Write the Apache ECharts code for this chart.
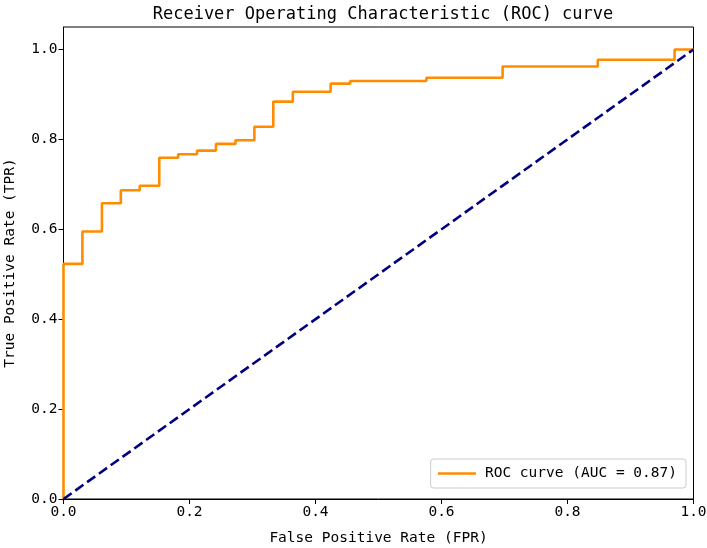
<!DOCTYPE html>
<html>
<head>
<meta charset="utf-8">
<script src="https://cdn.jsdelivr.net/npm/echarts@6/dist/echarts.min.js"></script>
<style>
  html, body { margin: 0; padding: 0; background: #fff; }
  #chart { width: 707px; height: 548px; }
</style>
</head>
<body>
<div id="chart"></div>
<script>
// ROC curve corners
const fpr = [0, 0, 0.030, 0.030, 0.061, 0.061, 0.091, 0.091, 0.121, 0.121, 0.152, 0.152,
  0.182, 0.182, 0.212, 0.212, 0.242, 0.242, 0.273, 0.273, 0.303, 0.303, 0.333, 0.333,
  0.364, 0.364, 0.424, 0.424, 0.455, 0.455, 0.576, 0.576, 0.697, 0.697, 0.848, 0.848,
  0.970, 0.970, 1.0];
const tpr = [0, 0.523, 0.523, 0.595, 0.595, 0.658, 0.658, 0.687, 0.687, 0.697, 0.697,
  0.759, 0.759, 0.767, 0.767, 0.775, 0.775, 0.790, 0.790, 0.798, 0.798, 0.828, 0.828,
  0.884, 0.884, 0.906, 0.906, 0.924, 0.924, 0.930, 0.930, 0.937, 0.937, 0.962, 0.962,
  0.977, 0.977, 1.0, 1.0];
// chance line
const chanceX = [0, 1];
const chanceY = [0, 1];
const tickVals = [0, 0.2, 0.4, 0.6, 0.8, 1.0];
const rocName = 'ROC curve (AUC = 0.87)';

const font = '"DejaVu Sans Mono", monospace';

var myChart = echarts.init(document.getElementById('chart'));
var option = {
  animation: false,
  backgroundColor: '#fff',
  title: {
    text: 'Receiver Operating Characteristic (ROC) curve',
    left: 378, top: 1, textAlign: 'center',
    textStyle: { fontFamily: font, fontSize: 17, fontWeight: 'normal', color: '#000' }
  },
  grid: {
    left: 63.5, right: 13.5, top: 27, bottom: 49,
    show: true, borderColor: '#000', borderWidth: 1,
    outerBoundsMode: 'none'
  },
  legend: {
    data: [rocName],
    right: 21, bottom: 60,
    padding: [7, 9, 7, 6],
    itemWidth: 38, itemHeight: 14, itemGap: 10,
    itemStyle: { opacity: 0, borderWidth: 0 },
    lineStyle: { color: '#ff8c00', width: 2.6 },
    backgroundColor: 'rgba(255,255,255,0.8)',
    borderColor: '#cccccc', borderWidth: 1, borderRadius: 3,
    textStyle: { fontFamily: font, fontSize: 14.5, color: '#000', padding: [0, 0, 0, 4] }
  },
  xAxis: {
    type: 'value', min: 0, max: 1, interval: 0.2,
    name: 'False Positive Rate (FPR)', nameLocation: 'middle', nameGap: 32,
    nameTextStyle: { fontFamily: font, fontSize: 14.5, color: '#000' },
    axisLine: { show: true, lineStyle: { color: '#000', width: 1 } },
    axisTick: { show: true, inside: false, length: 5, lineStyle: { color: '#000' } },
    axisLabel: {
      fontFamily: font, fontSize: 14.5, color: '#000', margin: 6,
      formatter: v => v.toFixed(1)
    },
    splitLine: { show: false }
  },
  yAxis: {
    type: 'value', min: 0, max: 1.05, interval: 0.2,
    name: 'True Positive Rate (TPR)', nameLocation: 'middle', nameGap: 46, nameRotate: 90,
    nameTextStyle: { fontFamily: font, fontSize: 14.5, color: '#000' },
    axisLine: { show: true, lineStyle: { color: '#000', width: 1 } },
    axisTick: { show: true, inside: false, length: 5, customValues: tickVals, lineStyle: { color: '#000' } },
    axisLabel: {
      fontFamily: font, fontSize: 14.5, color: '#000', margin: 6,
      customValues: tickVals,
      formatter: v => v.toFixed(1)
    },
    splitLine: { show: false }
  },
  series: [
    {
      name: rocName,
      type: 'line',
      symbol: 'none',
      data: fpr.map((x, i) => [x, tpr[i]]),
      lineStyle: { color: '#ff8c00', width: 2.6 },
      itemStyle: { color: '#ff8c00' },
      z: 3
    },
    {
      name: 'chance',
      type: 'line',
      symbol: 'none',
      data: chanceX.map((x, i) => [x, chanceY[i]]),
      lineStyle: { color: '#000080', width: 2.6, type: [10, 4.5] },
      itemStyle: { color: '#000080' },
      z: 4
    }
  ]
};
myChart.setOption(option);
</script>
</body>
</html>
